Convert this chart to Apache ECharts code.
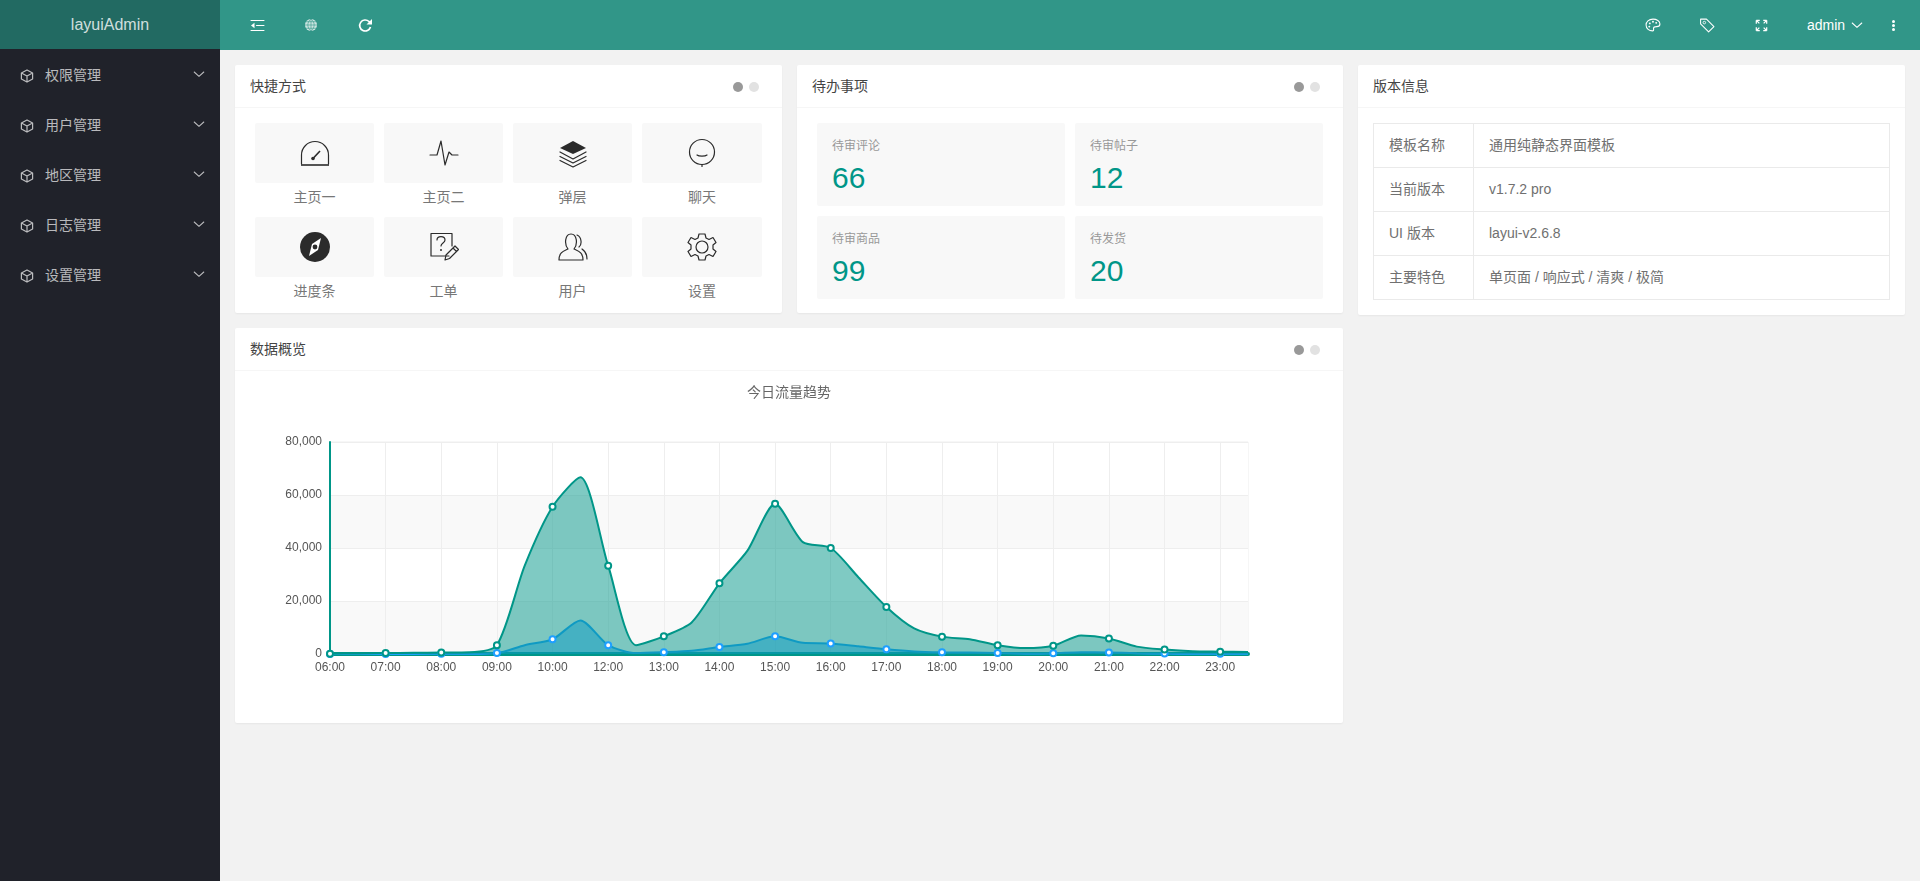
<!DOCTYPE html>
<html>
<head>
<meta charset="utf-8">
<title>layuiAdmin</title>
<script src="https://cdn.jsdelivr.net/npm/echarts@6/dist/echarts.min.js"></script>
<style>
  * { box-sizing: border-box; margin: 0; padding: 0; }
  html, body { width: 1920px; height: 881px; overflow: hidden; background: #f2f2f2; }
  body { font-family: "Liberation Sans", "Noto Sans CJK SC", sans-serif; font-size: 14px; color: #666; position: relative; }
  .abs { position: absolute; }
  svg { display: block; fill: none; }
  #logo { left: 0; top: 0; width: 220px; height: 49px; background: #226a62; color: rgba(255,255,255,.8); font-size: 16px; line-height: 49px; text-align: center; }
  #side { left: 0; top: 49px; width: 220px; height: 832px; background: #20222a; }
  #head { left: 220px; top: 0; width: 1700px; height: 50px; background: #319688; }
  .side-text { left: 45px; color: rgba(255,255,255,.7); line-height: 20px; }
  .card { background: #fff; border-radius: 2px; box-shadow: 0 1px 2px rgba(0,0,0,.05); }
  .card-line { height: 1px; background: #f6f6f6; }
  .card-title { color: #444; line-height: 20px; }
  .dot { width: 10px; height: 10px; border-radius: 50%; }
  .cell { background: #f8f8f8; border-radius: 2px; }
  .cell-label { text-align: center; line-height: 20px; color: #777; }
  .todo-label { font-size: 12px; color: #999; line-height: 16px; }
  .todo-num { font-size: 30px; color: #009688; line-height: 36px; }
  .tb-line { background: #eaeaea; }
  .tb-text { line-height: 20px; color: #707070; }
</style>
</head>
<body>
<div id="logo" class="abs">layuiAdmin</div>
<div id="side" class="abs"></div>
<div id="head" class="abs"></div>
<div id="page"></div>
<div id="chart" class="abs" style="left:235px;top:371px;width:1108px;height:352px;"></div>
<script>
// chart data
var hours = ['06:00','06:30','07:00','07:30','08:00','08:30','09:00','09:30','10:00','11:30','12:00','12:30','13:00','13:30','14:00','14:30','15:00','15:30','16:00','16:30','17:00','17:30','18:00','18:30','19:00','19:30','20:00','20:30','21:00','21:30','22:00','22:30','23:00','23:30'];
var pvValues = [111,222,333,444,555,666,3333,33333,55555,66666,33333,3333,6666,11888,26666,38888,56666,42222,39999,28888,17777,9666,6555,5555,3333,2222,3111,6999,5888,2777,1666,999,888,777];
var uvValues = [11,22,33,44,55,66,333,3333,5555,12666,3333,333,666,1188,2666,3888,6666,4222,3999,2888,1777,966,655,555,333,222,311,699,588,277,166,99,88,77];

// page text
var menuNames = ['权限管理','用户管理','地区管理','日志管理','设置管理'];
var quickNames = ['主页一','主页二','弹层','聊天','进度条','工单','用户','设置'];
var todoNames = ['待审评论','待审帖子','待审商品','待发货'];
var todoValues = [66,12,99,20];
var versionKeys = ['模板名称','当前版本','UI 版本','主要特色'];
var versionVals = ['通用纯静态界面模板','v1.7.2 pro','layui-v2.6.8','单页面 / 响应式 / 清爽 / 极简'];

var page = document.getElementById('page');
function put(cls, x, y, w, h, html, style){
  var d = document.createElement('div');
  d.className = 'abs ' + cls;
  d.style.cssText = 'left:'+x+'px;top:'+y+'px;'+(w?'width:'+w+'px;':'')+(h?'height:'+h+'px;':'')+(style||'');
  if(html !== undefined) d.innerHTML = html;
  page.appendChild(d);
  return d;
}
function icon(x, y, size, body, attrs){
  var s = size/2;
  put('', x-s, y-s, size, size, '<svg width="'+size+'" height="'+size+'" viewBox="0 0 30 30" '+(attrs||'')+'>'+body+'</svg>');
}
var dark = 'stroke="#2b2b2b" stroke-width="1.2" stroke-linejoin="round" stroke-linecap="round"';
var white = 'stroke="#fff" stroke-width="2" stroke-linecap="round" stroke-linejoin="round"';
var chevron = function(color){ return '<path d="M3 10 L15 21 L27 10" stroke="'+color+'" stroke-width="2.6" stroke-linecap="round" stroke-linejoin="round"/>'; };

// sidebar
menuNames.forEach(function(name, i){
  var y = 75 + i*50;
  icon(27, y+1, 14, '<path d="M15 2 L27 8.5 V21.5 L15 28 L3 21.5 V8.5 Z M3 8.5 L15 15 L27 8.5 M15 15 V28" stroke="rgba(255,255,255,.7)" stroke-width="2.6" stroke-linejoin="round"/>');
  put('side-text', 45, y-10, 0, 0, name);
  icon(199, y-1, 12, chevron('rgba(255,255,255,.7)'));
});

// header icons
icon(257, 25, 15, '<path d="M2 5 H28 M2 25 H28 M13 15 H28" '+white+' stroke-width="3"/><path d="M9 9.5 L2 15 L9 20.5 Z" fill="#fff"/>');
icon(311, 25, 14, '<circle cx="15" cy="15" r="13" fill="#fff" fill-opacity=".75"/><path d="M2 15 H28 M4 8 H26 M4 22 H26 M15 2 V28 M15 2 C6 9 6 21 15 28 M15 2 C24 9 24 21 15 28" stroke="#319688" stroke-width="1.3"/>');
icon(365, 25, 15, '<path d="M25 18 A11 11 0 1 1 22 7 L27 11" stroke="#fff" stroke-width="3.4"/><path d="M28 2 V13 H17 Z" fill="#fff"/>');
icon(1653, 25, 16, '<path d="M15 4 C7 4 2 9 2 15 C2 22 8 26 14 26 C17 26 16 23 16 21 C16 18 19 18 22 18 C26 18 28 16 28 13 C28 8 22 4 15 4 Z" '+white+'/><circle cx="9" cy="12" r="1.8" fill="#fff"/><circle cx="15" cy="9" r="1.8" fill="#fff"/><circle cx="21" cy="11" r="1.8" fill="#fff"/><circle cx="8" cy="18" r="1.8" fill="#fff"/>');
icon(1707, 25, 16, '<path d="M3 4 H14 L28 18 L18 28 L3 13 Z" '+white+'/><circle cx="10" cy="10.5" r="2.4" stroke="#fff" stroke-width="1.6"/>');
icon(1761, 25, 13, '<path d="M3 3 H11 M3 3 V11 M27 3 H19 M27 3 V11 M3 27 H11 M3 27 V19 M27 27 H19 M27 27 V19 M3 3 L10 10 M27 3 L20 10 M3 27 L10 20 M27 27 L20 20" stroke="#fff" stroke-width="2.8"/>');
put('', 1807, 15, 0, 20, 'admin', 'color:#fff;line-height:20px;');
icon(1857, 25, 12, chevron('#fff'));
[21,25,29].forEach(function(y){ put('', 1891.5, y-1.5, 3, 3, '', 'background:#fff;border-radius:50%;'); });

// cards
function card(x, y, w, h, title, dots){
  put('card', x, y, w, h);
  put('card-line', x, y+42, w, 1);
  put('card-title', x+15, y+10.5, 0, 0, '<span style="white-space:nowrap">'+title+'</span>');
  if(dots){
    put('dot', x+w-49, y+17, 10, 10, '', 'background:#999;');
    put('dot', x+w-33, y+17, 10, 10, '', 'background:#e2e2e2;');
  }
}
card(235, 65, 547, 248, '快捷方式', true);
card(797, 65, 546, 248, '待办事项', true);
card(1358, 65, 547, 250, '版本信息', false);
card(235, 328, 1108, 395, '数据概览', true);

// quick links
var quickX = [255, 384, 513, 642];
var quickW = [119, 119, 119, 120];
var quickY = [123, 217];
var quickIcons = [
  '<path d="M1.5 26 V17 A13.5 13.5 0 0 1 28.5 17 V26" '+dark+'/><path d="M1 27 H29" stroke="#2b2b2b" stroke-width="1.6"/><path d="M13 20.5 L20 13" stroke="#2b2b2b" stroke-width="1.6"/><circle cx="13" cy="20.5" r="1.8" fill="#2b2b2b"/>',
  '<path d="M1 17 H8 L12 3 L16 27 L20 14 L23 17 H29" '+dark+'/>',
  '<path d="M15 3 L28 10 L15 16 L2 10 Z" fill="#2b2b2b"/><path d="M2 14 L15 21 L28 14 M2 18.5 L15 25 L28 18.5 M2 22.5 L15 29 L28 22.5" '+dark+'/>',
  '<circle cx="15" cy="14" r="12.5" '+dark+'/><path d="M15 26.5 L15 28.5" '+dark+'/><path d="M10 17 C12 18.5 18 18.5 20 17" '+dark+'/>',
  '<circle cx="15" cy="15" r="15" fill="#2b2b2b"/><path d="M21 6 L18 18 L9 24 L12 12 Z" fill="#fff"/><circle cx="15" cy="15" r="2.4" fill="#2b2b2b"/>',
  '<path d="M20 24 H2 V1.5 H23 V14" '+dark+'/><path d="M8 8 C8 3.5 16 3.5 16 8 C16 11 12 11 12 14" '+dark+'/><circle cx="12" cy="18" r="1" fill="#2b2b2b"/><path d="M16 28 L17 23 L26 14 L29.5 17.5 L20.5 26.5 Z M24 16 L27.5 19.5" '+dark+'/>',
  '<path d="M1 28 C1 20 6 19 10 17 C6 12 7 2 13 2 C19 2 20 12 16 17 C20 19 25 20 25 28 Z" '+dark+'/><path d="M19 3 C24 5 24 13 21 15 M24 17 C27 19 29 22 29 27" '+dark+'/>',
  '<circle cx="15" cy="15" r="6" '+dark+'/><path d="M12 2 H18 L19 6 L22 7.5 L26 5.5 L29 10.5 L26 13 V17 L29 19.5 L26 24.5 L22 22.5 L19 24 L18 28 H12 L11 24 L8 22.5 L4 24.5 L1 19.5 L4 17 V13 L1 10.5 L4 5.5 L8 7.5 L11 6 Z" '+dark+'/>'
];
quickNames.forEach(function(name, i){
  var c = i % 4, r = Math.floor(i/4);
  put('cell', quickX[c], quickY[r], quickW[c], 60);
  icon(quickX[c]+quickW[c]/2, quickY[r]+30, 30, quickIcons[i]);
  put('cell-label', quickX[c], quickY[r]+64, quickW[c], 20, name);
});

// todo cells
var todoX = [817, 1075];
var todoY = [123, 216];
todoNames.forEach(function(name, i){
  var x = todoX[i%2], y = todoY[Math.floor(i/2)];
  put('cell', x, y, 248, 83);
  put('todo-label', x+15, y+15, 0, 16, '<span style="white-space:nowrap">'+name+'</span>');
  put('todo-num', x+15, y+37, 0, 36, todoValues[i]);
});

// version table
[123, 167, 211, 255, 299].forEach(function(y){ put('tb-line', 1373, y, 517, 1); });
[1373, 1473, 1889].forEach(function(x){ put('tb-line', x, 123, 1, 177); });
versionKeys.forEach(function(key, i){
  var y = 135 + i*44;
  put('tb-text', 1389, y, 0, 20, '<span style="white-space:nowrap">'+key+'</span>');
  put('tb-text', 1489, y, 0, 20, '<span style="white-space:nowrap">'+versionVals[i]+'</span>');
});

// traffic chart
var chart = echarts.init(document.getElementById('chart'));
var fontName = '"Liberation Sans", "Noto Sans CJK SC", sans-serif';

// blue line sits under the teal area but its dots stay on top, so lines and dots are separate series
function areaSeries(name, values, color, z){
  return {
    name: name, type: 'line', smooth: 0.25, z: z, showSymbol: false, data: values,
    lineStyle: { color: color, width: 2 },
    itemStyle: { color: color },
    areaStyle: { color: color, opacity: 0.5 }
  };
}
function dotSeries(name, values, color, z){
  return {
    name: name, type: 'line', z: z, showAllSymbol: false, symbol: 'emptyCircle', symbolSize: 6, data: values,
    lineStyle: { width: 0 },
    itemStyle: { color: color, borderColor: color, borderWidth: 2.5 }
  };
}

var option = {
  animation: false,
  textStyle: { fontFamily: fontName },
  title: {
    text: '今日流量趋势',
    left: 'center',
    top: 10,
    textStyle: { fontSize: 14, fontWeight: 'normal', color: '#666', fontFamily: fontName }
  },
  grid: { left: 95, right: 95, top: 71, bottom: 69, show: true, borderColor: '#eee', borderWidth: 1, backgroundColor: 'transparent' },
  xAxis: {
    type: 'category',
    boundaryGap: false,
    data: hours,
    axisLine: { lineStyle: { color: '#009688', width: 4 } },
    axisTick: { show: false },
    axisLabel: { interval: 1, color: '#555', fontSize: 12, margin: 8 },
    splitLine: { show: true, interval: 1, lineStyle: { color: '#eee' } }
  },
  yAxis: {
    type: 'value',
    min: 0,
    max: 80000,
    interval: 20000,
    axisLine: { show: true, lineStyle: { color: '#009688', width: 2 } },
    axisTick: { show: false },
    axisLabel: { color: '#555', fontSize: 12, margin: 8, formatter: function(v){ return echarts.format.addCommas(v); } },
    splitLine: { show: true, lineStyle: { color: '#eee' } },
    splitArea: { show: true, areaStyle: { color: ['#f9f9f9', '#ffffff'] } }
  },
  series: [
    areaSeries('UV', uvValues, '#1e9fff', 2),
    areaSeries('PV', pvValues, '#009688', 3),
    dotSeries('UV', uvValues, '#1e9fff', 4),
    dotSeries('PV', pvValues, '#009688', 5)
  ]
};
chart.setOption(option);
</script>
</body>
</html>
